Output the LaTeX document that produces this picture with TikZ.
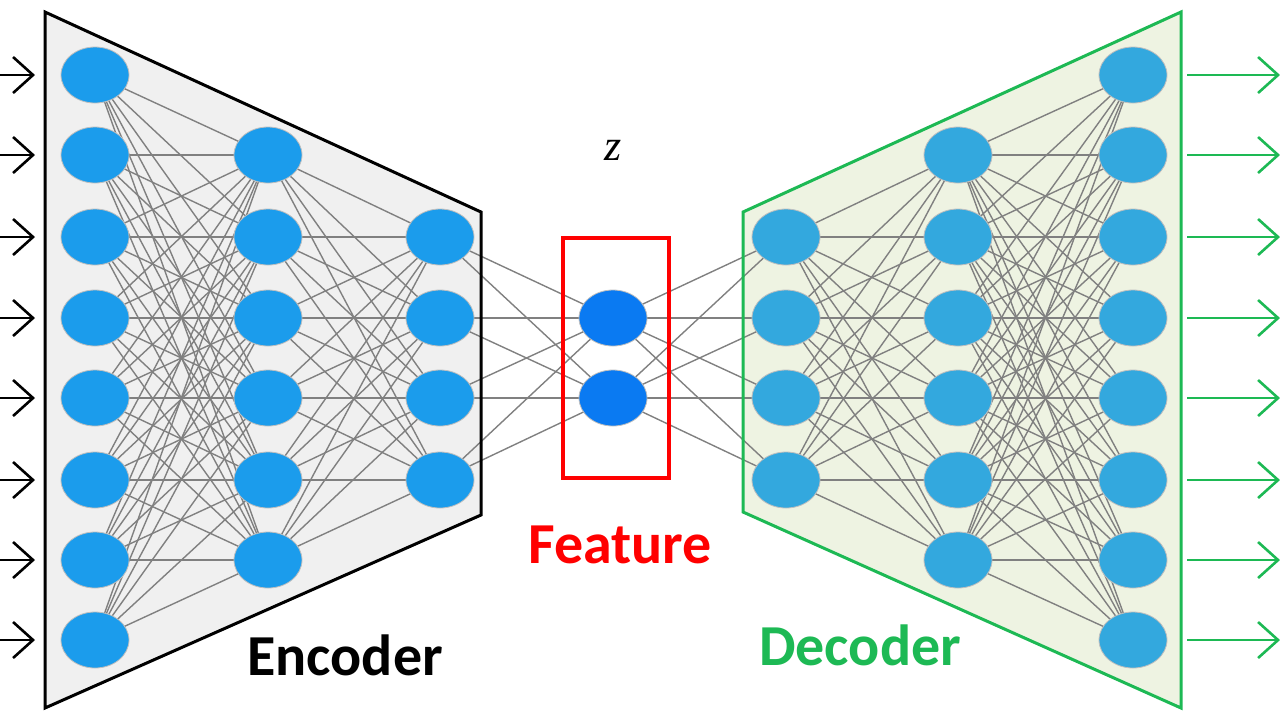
\documentclass[tikz,border=0pt]{standalone}
\usepackage{fontspec}
\setmainfont{Carlito}
\newfontfamily\zfont{Liberation Serif}
\usetikzlibrary{arrows.meta,shapes.geometric}
\definecolor{encn}{HTML}{1B9CEC}
\definecolor{decn}{HTML}{33A8DE}
\definecolor{feat}{HTML}{0A7AF2}
\definecolor{grn}{HTML}{1DB954}
\definecolor{decfill}{HTML}{EEF3E2}
\begin{document}
\begin{tikzpicture}[x=0.5pt,y=-0.5pt,
  neu/.style={ellipse,minimum width=34pt,minimum height=28pt,inner sep=0pt,draw=black!25,line width=0.4pt},
  enc/.style={neu,fill=encn},
  dec/.style={neu,fill=decn},
  fea/.style={neu,fill=feat,minimum width=34pt,minimum height=28pt},
  edge/.style={draw=black!50,line width=0.7pt},
  arr/.style={-{Straight Barb[length=10pt,width=18pt]},line width=1.3pt},
  lab/.style={font=\bfseries\fontsize{29}{34}\selectfont}]
\useasboundingbox (0,0) rectangle (1280,720);
\fill[black!6] (45,12) -- (481,212) -- (481,515) -- (45,708) -- cycle;
\fill[decfill] (743,212) -- (1181,12) -- (1181,708) -- (743,512) -- cycle;
\foreach \y [count=\i] in {75,155,237,318,398,480,560,640} {\coordinate (pa\i) at (95,\y);}
\foreach \y [count=\i] in {155,237,318,398,480,560} {\coordinate (pb\i) at (268,\y);}
\foreach \y [count=\i] in {237,318,398,480} {\coordinate (pc\i) at (440,\y);}
\foreach \y [count=\i] in {318,398} {\coordinate (pz\i) at (613,\y);}
\foreach \y [count=\i] in {237,318,398,480} {\coordinate (pd\i) at (786,\y);}
\foreach \y [count=\i] in {155,237,318,398,480,560} {\coordinate (pe\i) at (958,\y);}
\foreach \y [count=\i] in {75,155,237,318,398,480,560,640} {\coordinate (pf\i) at (1133,\y);}
\foreach \i in {1,...,8} \foreach \j in {1,...,6} \draw[edge] (pa\i) -- (pb\j);
\foreach \i in {1,...,6} \foreach \j in {1,...,4} \draw[edge] (pb\i) -- (pc\j);
\foreach \i in {1,...,4} \foreach \j in {1,2} \draw[edge] (pc\i) -- (pz\j);
\foreach \i in {1,2} \foreach \j in {1,...,4} \draw[edge] (pz\i) -- (pd\j);
\foreach \i in {1,...,4} \foreach \j in {1,...,6} \draw[edge] (pd\i) -- (pe\j);
\foreach \i in {1,...,6} \foreach \j in {1,...,8} \draw[edge] (pe\i) -- (pf\j);
\draw[line width=1.5pt] (45,12) -- (481,212) -- (481,515) -- (45,708) -- cycle;
\draw[grn,line width=1.5pt] (743,212) -- (1181,12) -- (1181,708) -- (743,512) -- cycle;
\foreach \i in {1,...,8} {\node[enc] (a\i) at (pa\i) {};
  \coordinate (in\i) at (0,0 |- pa\i);
  \coordinate (ie\i) at (35,0 |- pa\i);
  \draw[arr] (in\i) -- (ie\i);}
\foreach \i in {1,...,6} \node[enc] (b\i) at (pb\i) {};
\foreach \i in {1,...,4} \node[enc] (c\i) at (pc\i) {};
\foreach \i in {1,2} \node[fea] (z\i) at (pz\i) {};
\foreach \i in {1,...,4} \node[dec] (d\i) at (pd\i) {};
\foreach \i in {1,...,6} \node[dec] (e\i) at (pe\i) {};
\foreach \i in {1,...,8} {\node[dec] (f\i) at (pf\i) {};
  \coordinate (os\i) at (1187,0 |- pf\i);
  \coordinate (oe\i) at (1280,0 |- pf\i);
  \draw[grn,arr] (os\i) -- (oe\i);}
\node[draw=red,line width=2pt,minimum width=53pt,minimum height=120pt] (box) at (616,358) {};
\node[font=\zfont\itshape\fontsize{22}{26}\selectfont] (zl) at (613,150) {z};
\node[lab,text=red] (fl) at (620,545) {Feature};
\node[lab] (el) at (345,655) {Encoder};
\node[lab,text=grn] (dl) at (860,645) {Decoder};
\end{tikzpicture}
\end{document}
